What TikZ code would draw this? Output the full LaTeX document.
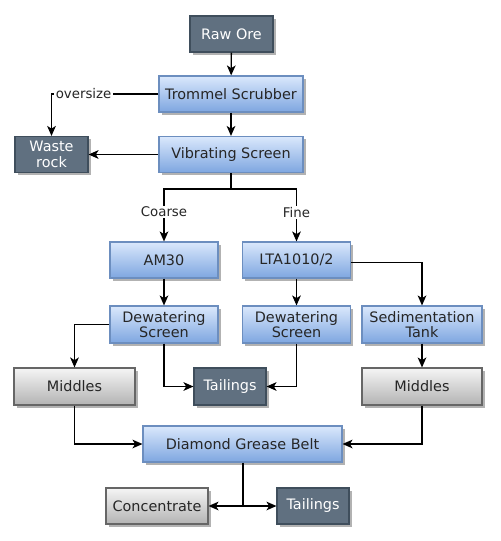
\documentclass[tikz,border=0pt]{standalone}
\usepackage{fontspec}
\setmainfont{DejaVu Sans}
\usetikzlibrary{arrows.meta,shadows}
\definecolor{darkfill}{HTML}{607080}
\definecolor{darkline}{HTML}{3F4E5C}
\definecolor{bluetop}{HTML}{DAE8FC}
\definecolor{bluebot}{HTML}{7EA6E0}
\definecolor{blueline}{HTML}{6C8EBF}
\definecolor{graytop}{HTML}{F5F5F5}
\definecolor{graybot}{HTML}{B3B3B3}
\definecolor{grayline}{HTML}{666666}
\begin{document}
\begin{tikzpicture}[x=0.75pt,y=-0.75pt,
  font=\fontsize{10.8}{11.8}\selectfont,
  base/.style={rectangle, align=center, inner sep=1pt, line width=0.8pt,
    drop shadow={shadow xshift=2.2pt, shadow yshift=-2.2pt, opacity=0.3, fill=black}},
  darkbox/.style={base, fill=darkfill, draw=darkline, text=white},
  bluebox/.style={base, top color=bluetop, bottom color=bluebot, draw=blueline, text=black!85},
  graybox/.style={base, top color=graytop, bottom color=graybot, draw=grayline, text=black!85},
  arr/.style={line width=1pt, -{Stealth[length=7.5pt,width=6.5pt,inset=2pt]}},
  ln/.style={line width=1pt},
  lbl/.style={fill=white, inner sep=1pt, text=black!85, font=\fontsize{10}{11}\selectfont}
]
\useasboundingbox (0,0) rectangle (500,541);

\node[darkbox, minimum width=62.25pt, minimum height=27pt] (raw) at (231.5,34) {Raw Ore};
\node[bluebox, minimum width=108pt, minimum height=27pt] (trom) at (231,94) {Trommel Scrubber};
\node[bluebox, minimum width=108pt, minimum height=27pt] (vib) at (231,154.5) {Vibrating Screen};
\node[darkbox, minimum width=54.75pt, minimum height=27pt] (waste) at (51.5,154.5) {Waste\\rock};
\node[bluebox, minimum width=81pt, minimum height=27pt] (am) at (164,260) {AM30};
\node[bluebox, minimum width=81pt, minimum height=27pt] (lta) at (296.5,260) {LTA1010/2};
\node[bluebox, minimum width=81pt, minimum height=27.75pt] (dew1) at (164,324.5) {Dewatering\\Screen};
\node[bluebox, minimum width=81pt, minimum height=27.75pt] (dew2) at (296.5,324.5) {Dewatering\\Screen};
\node[bluebox, minimum width=90pt, minimum height=27.75pt] (sed) at (422,324.5) {Sedimentation\\Tank};
\node[darkbox, minimum width=54pt, minimum height=27.75pt] (tail1) at (230,386.5) {Tailings};
\node[graybox, minimum width=90.75pt, minimum height=27.75pt] (midl) at (74.5,386.5) {Middles};
\node[graybox, minimum width=90pt, minimum height=27.75pt] (midr) at (422,386.5) {Middles};
\node[bluebox, minimum width=149.25pt, minimum height=27pt] (dgb) at (242.5,444) {Diamond Grease Belt};
\node[graybox, minimum width=76.5pt, minimum height=27pt] (conc) at (157,506) {Concentrate};
\node[darkbox, minimum width=54pt, minimum height=27pt] (tail2) at (313,506) {Tailings};

\coordinate (split) at (231,189);
\coordinate (join) at (243,506);

\draw[arr] (raw) -- (trom);
\draw[arr] (trom) -- (vib);
\draw[arr] (trom.west) -| (waste.north) node[pos=0.35, lbl] {oversize};
\draw[arr] (vib.west) -- (waste.east);
\draw[ln] (vib.south) -- (split);
\draw[arr] (split) -| (am.north) node[pos=0.72, lbl] {Coarse};
\draw[arr] (split) -| (lta.north) node[pos=0.72, lbl] {Fine};
\draw[arr] (am) -- (dew1);
\draw[arr] (lta) -- (dew2);
\draw[arr] ([yshift=-2pt]lta.east) -| (sed.north);
\draw[arr] (dew1.west) -| (midl.north);
\draw[arr] (dew1.south) |- (tail1.west);
\draw[arr] (dew2.south) |- (tail1.east);
\draw[arr] (sed) -- (midr);
\draw[arr] (midl.south) |- (dgb.west);
\draw[arr] (midr.south) |- (dgb.east);
\draw[ln] (dgb.south -| join) -- (join);
\draw[arr] (join) -- (conc.east);
\draw[arr] (join) -- (tail2.west);
\end{tikzpicture}
\end{document}
